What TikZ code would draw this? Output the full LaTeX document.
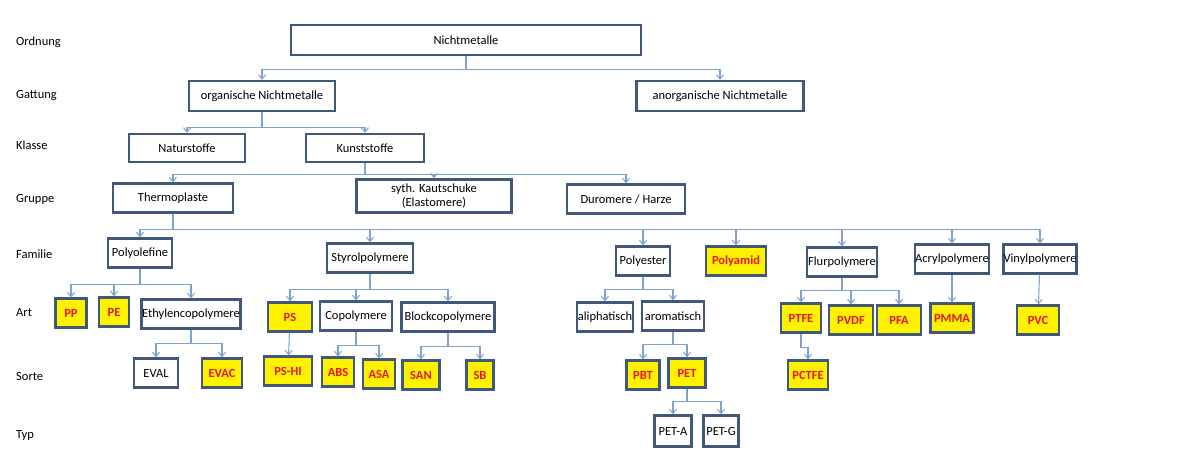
\documentclass[tikz,border=0pt]{standalone}
\usepackage{fontspec}
\setmainfont{Carlito}
\usetikzlibrary{positioning, arrows.meta}
\definecolor{boxline}{HTML}{40587A}
\definecolor{linkline}{HTML}{7FA3CF}
\definecolor{hitred}{HTML}{E8141B}
\begin{document}
\begin{tikzpicture}[x=0.02cm, y=-0.02cm, font=\fontsize{7.1}{8.5}\selectfont]
  \tikzset{clsentry/.style={draw=boxline, line width=1.25pt, fill=white, inner sep=0pt, minimum height=28*0.02cm}}
  \tikzset{hitentry/.style={clsentry, fill=yellow, text=hitred, font=\fontsize{7.1}{8.5}\selectfont\bfseries}}
  \tikzset{link/.style={draw=linkline, line width=0.6pt, ->, >={Straight Barb[length=2.5pt,width=4pt]}}}
  \tikzset{rowlbl/.style={anchor=west}}

  \useasboundingbox (0,0) rectangle (1200,466);

  % row labels
  \foreach \lbl/\y [count=\i] in {Ordnung/42, Gattung/96, Klasse/145, Gruppe/199, Familie/254, Art/313, Sorte/376, Typ/435}{
    \node[rowlbl] (row\i) at (10,\y) {\lbl};
  }

  % upper levels
  \node[clsentry, minimum width=350*0.02cm, minimum height=30*0.02cm] (nm) at (466,40) {Nichtmetalle};
  \node[clsentry, minimum width=146*0.02cm, minimum height=30*0.02cm] (org) at (262,96) {organische Nichtmetalle};
  \node[clsentry, minimum width=167*0.02cm, minimum height=30*0.02cm] (anorg) at (720,96) {anorganische Nichtmetalle};
  \node[clsentry, minimum width=116*0.02cm] (natur) at (187,148) {Naturstoffe};
  \node[clsentry, minimum width=118*0.02cm] (kunst) at (365,148) {Kunststoffe};
  \node[clsentry, minimum width=120*0.02cm, minimum height=29*0.02cm] (thermo) at (173,198) {Thermoplaste};
  \node[clsentry, minimum width=155*0.02cm, minimum height=33*0.02cm, align=center] (kaut) at (434,196) {syth. Kautschuke\\(Elastomere)};
  \node[clsentry, minimum width=118*0.02cm, minimum height=29*0.02cm] (duro) at (626,199) {Duromere / Harze};

  % Familie
  \foreach \name/\txt/\x/\y/\w/\style in {polyol/Polyolefine/140/253/64/clsentry, styrol/Styrolpolymere/370/258/86/clsentry,
      polyest/Polyester/643/261/54/clsentry, polyam/Polyamid/736/261/60/hitentry, flur/Flurpolymere/842/262/70/clsentry,
      acryl/Acrylpolymere/952/259/73/clsentry, vinyl/Vinylpolymere/1040/259/73/clsentry}{
    \node[\style, minimum width=\w*0.02cm, minimum height=29*0.02cm] (\name) at (\x,\y) {\txt};
  }

  % Art
  \foreach \name/\txt/\x/\y/\w/\style in {pp/PP/71/313/31/hitentry, pe/PE/114/312/30/hitentry, ethco/Ethylencopolymere/191/314/99/clsentry,
      ps/PS/290/317/44/hitentry, copo/Copolymere/356/316/72/clsentry, block/Blockcopolymere/448/317/93/clsentry,
      aliph/aliphatisch/605/317/56/clsentry, arom/aromatisch/673/316/62/clsentry, ptfe/PTFE/801/318/40/hitentry,
      pvdf/PVDF/851/320/44/hitentry, pfa/PFA/899/320/44/hitentry, pmma/PMMA/952/318/43/hitentry, pvc/PVC/1038/320/42/hitentry}{
    \node[\style, minimum width=\w*0.02cm, minimum height=29*0.02cm] (\name) at (\x,\y) {\txt};
  }

  % Sorte
  \foreach \name/\txt/\x/\y/\w/\style in {eval/EVAL/156/373/44/clsentry, evac/EVAC/222/373/40/hitentry, pshi/PS-HI/288/371/48/hitentry,
      abs/ABS/338/372/32/hitentry, asa/ASA/379/374/32/hitentry, san/SAN/421/375/37/hitentry, sb/SB/480/375/27/hitentry,
      pbt/PBT/643/375/33/hitentry, pet/PET/687/373/37/hitentry, pctfe/PCTFE/808/375/40/hitentry}{
    \node[\style, minimum width=\w*0.02cm, minimum height=29*0.02cm] (\name) at (\x,\y) {\txt};
  }

  % Typ
  \node[clsentry, minimum width=37*0.02cm, minimum height=31*0.02cm] (peta) at (673,431) {PET-A};
  \node[clsentry, minimum width=35*0.02cm, minimum height=31*0.02cm] (petg) at (721,431) {PET-G};

  % links
  \foreach \parent/\drop/\kids in {nm/13/{org,anorg}, org/15/{natur,kunst}, kunst/11/{thermo,kaut,duro},
      thermo/16/{polyol,styrol,polyest,polyam,flur,acryl,vinyl}, polyol/16/{pp,pe,ethco}, styrol/16/{ps,copo,block},
      polyest/13/{aliph,arom}, flur/13/{ptfe,pvdf,pfa}, ethco/14/{eval,evac}, copo/14/{abs,asa}, block/14/{san,sb},
      arom/13/{pbt,pet}, ptfe/14/{pctfe}, pet/13/{peta,petg}}{
    \foreach \kid in \kids{
      \draw[link] (\parent.south) -- ++(0,\drop) -| (\kid.north);
    }
  }
  \draw[link] (acryl) -- (pmma);
  \draw[link] (vinyl) -- (pvc);
  \draw[link] (ps) -- (pshi);
\end{tikzpicture}
\end{document}
